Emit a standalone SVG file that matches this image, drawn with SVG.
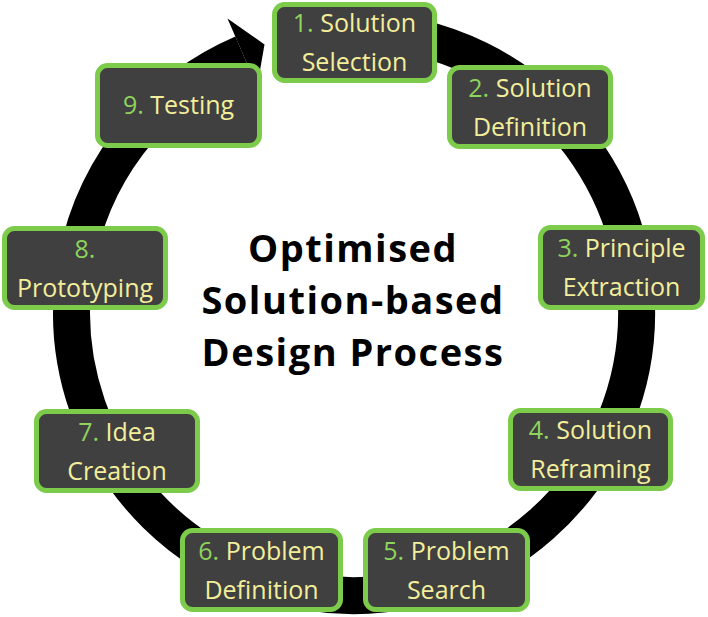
<svg xmlns="http://www.w3.org/2000/svg" width="708" height="617" viewBox="0 0 708 617">
<style>
.box{fill:#404040;stroke:#7DCB4B;stroke-width:5}
.t{font-family:"Open Sans","Noto Sans","DejaVu Sans",sans-serif;font-size:25px;fill:#F3EE9B;text-anchor:middle}
.n{fill:#8ED45C}
.title{font-family:"Open Sans","Noto Sans","DejaVu Sans",sans-serif;font-size:38px;font-weight:bold;letter-spacing:1.5px;fill:#000;text-anchor:middle}
</style>
<rect width="708" height="617" fill="#fff"/>
<g id="connectors">
<path d="M354 30.5 A282.5 282.5 0 1 1 242.7 53.4" fill="none" stroke="#000" stroke-width="37"/>
<polygon points="227.5,18.5 264.5,44.5 257.1,86.9" fill="#000"/>
</g>
<g id="title">
<text class="title" x="353" y="262">Optimised<tspan x="353" dy="52">Solution-based</tspan><tspan x="353" dy="52">Design Process</tspan></text>
</g>
<g id="n1"><rect class="box" x="274.5" y="4.5" width="160" height="76" rx="10"/>
<text class="t" x="354.5" y="32"><tspan class="n">1.</tspan> Solution</text>
<text class="t" x="354.5" y="71">Selection</text></g>
<g id="n2"><rect class="box" x="449.5" y="67.5" width="161" height="79" rx="10"/>
<text class="t" x="530" y="96.5"><tspan class="n">2.</tspan> Solution</text>
<text class="t" x="530" y="135.5">Definition</text></g>
<g id="n3"><rect class="box" x="540.5" y="227.5" width="162" height="80" rx="10"/>
<text class="t" x="621.5" y="257"><tspan class="n">3.</tspan> Principle</text>
<text class="t" x="621.5" y="296">Extraction</text></g>
<g id="n4"><rect class="box" x="510.5" y="410.5" width="160" height="78" rx="10"/>
<text class="t" x="590.5" y="439"><tspan class="n">4.</tspan> Solution</text>
<text class="t" x="590.5" y="478">Reframing</text></g>
<g id="n5"><rect class="box" x="365.5" y="530.5" width="162" height="79" rx="10"/>
<text class="t" x="446.5" y="559.5"><tspan class="n">5.</tspan> Problem</text>
<text class="t" x="446.5" y="598.5">Search</text></g>
<g id="n6"><rect class="box" x="182.5" y="530.5" width="158" height="79" rx="10"/>
<text class="t" x="261.5" y="559.5"><tspan class="n">6.</tspan> Problem</text>
<text class="t" x="261.5" y="598.5">Definition</text></g>
<g id="n7"><rect class="box" x="36.5" y="411.5" width="161" height="79" rx="10"/>
<text class="t" x="117" y="440.5"><tspan class="n">7.</tspan> Idea</text>
<text class="t" x="117" y="479.5">Creation</text></g>
<g id="n8"><rect class="box" x="4.5" y="228.5" width="161" height="79" rx="10"/>
<text class="t" x="85" y="257.5"><tspan class="n">8.</tspan></text>
<text class="t" x="85" y="296.5">Prototyping</text></g>
<g id="n9"><rect class="box" x="97.5" y="65.5" width="162" height="80" rx="10"/>
<text class="t" x="178.5" y="114"><tspan class="n">9.</tspan> Testing</text></g>
</svg>
